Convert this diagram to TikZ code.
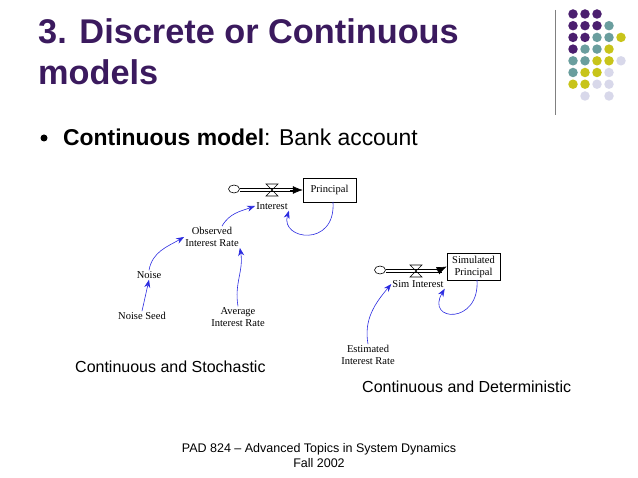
\documentclass[tikz,border=0pt]{standalone}
\usepackage{fontspec}
\setmainfont{Liberation Sans}
\newfontfamily\serif{Liberation Serif}
\usetikzlibrary{arrows.meta}
\definecolor{tpurple}{HTML}{3B1A5E}
\definecolor{dP}{HTML}{4B1F6F}
\definecolor{dT}{HTML}{6A9E9E}
\definecolor{dY}{HTML}{C8C41A}
\definecolor{dL}{HTML}{D8D8EA}
\definecolor{lnk}{HTML}{2B2BE0}
\tikzset{
 lbl/.style={font=\serif\fontsize{10.5}{12}\selectfont, align=center, inner sep=1pt},
 stock/.style={draw, font=\serif\fontsize{10.5}{12}\selectfont, align=center, inner sep=3pt},
 link/.style={draw=lnk, -{Stealth[length=8pt,width=6pt]}, line width=0.6pt},
 pipe/.style={double, double distance=2pt, line width=0.6pt},
 dot/.style={circle, fill=#1, inner sep=0, minimum size=9.5},
 captxt/.style={font=\fontsize{16}{19}\selectfont, inner sep=0, anchor=west}
}
\begin{document}
\begin{tikzpicture}[x=1pt,y=-1pt]
\useasboundingbox (0,0) rectangle (638,478);
% title
\node[anchor=north west, align=left, text=tpurple, font=\bfseries\fontsize{34.3}{41}\selectfont, inner sep=0] (title) at (38,18) {3. Discrete or Continuous\\models};
\node[circle, fill=black, inner sep=0, minimum size=7] (bul) at (44,138) {};
\node[anchor=west, inner sep=0, font=\fontsize{22.9}{27}\selectfont] (sub) at (63,137) {\textbf{Continuous model}: Bank account};
% decoration
\draw[gray, line width=0.8pt] (555,10) -- (555,115);
\foreach \r/\cs in {0/{P,P,P},1/{P,P,P,T},2/{P,P,T,T,Y},3/{P,T,T,Y},4/{T,T,Y,Y,L},5/{T,Y,Y,L},6/{Y,Y,L,L}}{
  \foreach \c [count=\i from 0] in \cs { \node[dot=d\c] at (573+12*\i,14+11.7*\r) {}; }
}
\node[dot=dL] at (585,96) {};
\node[dot=dL] at (609,96) {};
% stochastic model
\node[stock, minimum width=53, minimum height=24] (prin) at (329.5,190) {Principal};
\coordinate (c1) at (234,189);
\draw[line width=0.6pt] (c1) circle[x radius=5.5, y radius=4];
\node[lbl] (int) at (272,206) {Interest};
\draw[pipe] (240,190) -- (295,190);
\draw[-{Latex[length=10pt,width=8pt]}, line width=0.6pt] (290,190) -- (prin.west);
\draw[line width=0.6pt] (266,184) -- (278,184) -- (266,196) -- (278,196) -- cycle;
\node[lbl] (obs) at (212,237) {Observed\\Interest Rate};
\node[lbl] (noise) at (149,275) {Noise};
\node[lbl] (seed) at (142,316) {Noise Seed};
\node[lbl] (avg) at (238,317) {Average\\Interest Rate};
\coordinate (p1) at (333,202);
\draw[link] (p1) .. controls (336,248) and (280,240) .. (int.south east);
\draw[link] (obs.north) ++(10,0) to[out=60,in=200] (int.west);
\draw[link] (noise.north) to[out=80,in=210] (obs.west);
\draw[link] (seed.north) -- (noise.south);
\draw[link] (avg.north) to[out=100,in=-80] (obs.south east);
% deterministic model
\node[stock, minimum width=53, minimum height=27] (sim) at (473.5,266.5) {Simulated\\Principal};
\coordinate (c2) at (380,270);
\draw[line width=0.6pt] (c2) circle[x radius=5.5, y radius=4];
\draw[pipe] (386,271) -- (442,271);
\draw[-{Latex[length=10pt,width=8pt]}, line width=0.6pt] (437,271) -- (sim.west);
\draw[line width=0.6pt] (410,265) -- (422,265) -- (410,277) -- (422,277) -- cycle;
\node[lbl] (sint) at (418,284) {Sim Interest};
\node[lbl] (est) at (368,355) {Estimated\\Interest Rate};
\coordinate (p2) at (477,280);
\draw[link] (p2) .. controls (480,325) and (425,322) .. (sint.south east);
\draw[link] (est.north) to[out=100,in=230] (sint.west);
% captions
\node[captxt] (cs) at (75,367) {Continuous and Stochastic};
\node[captxt] (cd) at (362,387) {Continuous and Deterministic};
\node[align=center, font=\fontsize{12.5}{15}\selectfont, inner sep=0] (foot) at (319,456) {PAD 824 -- Advanced Topics in System Dynamics\\Fall 2002};
\end{tikzpicture}
\end{document}
